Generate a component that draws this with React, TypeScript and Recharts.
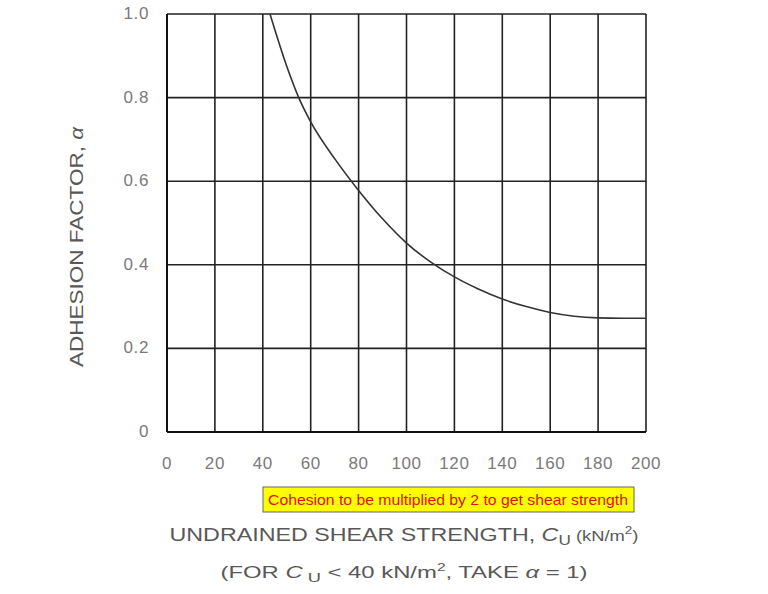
import React from 'react';
import { LineChart, Line, XAxis, YAxis, CartesianGrid } from 'recharts';

// undrained shear strength (kN/m2) and adhesion factor
const cuValues = [43, 50, 55, 60, 70, 80, 90, 100, 110, 120, 130, 140, 150, 160, 170, 180, 190, 200];
const alphaValues = [1.0, 0.875, 0.8, 0.742, 0.654, 0.578, 0.51, 0.452, 0.407, 0.371, 0.342, 0.318, 0.3, 0.286, 0.277, 0.273, 0.272, 0.272];

const cuTicks = [0, 20, 40, 60, 80, 100, 120, 140, 160, 180, 200];
const alphaTicks = [0, 0.2, 0.4, 0.6, 0.8, 1.0];

const data = cuValues.map((cu, i) => ({ cu, alpha: alphaValues[i] }));

const FONT = '"Liberation Sans", Arial, sans-serif';
const TICK_COLOR = '#7a7a7a';
const LABEL_COLOR = '#585858';

function XTick(props: any) {
  const { x, y, payload } = props;
  return (
    <text
      x={x}
      y={y + 37}
      textAnchor="middle"
      fontFamily={FONT}
      fontSize={17}
      letterSpacing={0.6}
      fill={TICK_COLOR}
    >
      {payload.value}
    </text>
  );
}

function YTick(props: any) {
  const { x, y, payload } = props;
  const v = payload.value;
  const label = v === 0 ? '0' : v.toFixed(1);
  return (
    <text
      x={x - 18}
      y={y + 5}
      textAnchor="end"
      fontFamily={FONT}
      fontSize={17}
      letterSpacing={0.6}
      fill={TICK_COLOR}
    >
      {label}
    </text>
  );
}

export default function App() {
  return (
    <div style={{ position: 'fixed', left: 0, top: 0, width: 768, height: 594, background: '#fff' }}>
      <LineChart
        width={768}
        height={480}
        data={data}
        margin={{ top: 14, right: 122, left: 127, bottom: 18 }}
      >
        <CartesianGrid stroke="#222" strokeWidth={1.6} />
        <XAxis
          type="number"
          dataKey="cu"
          domain={[0, 200]}
          ticks={cuTicks}
          interval={0}
          height={30}
          tickSize={0}
          tickMargin={0}
          tickLine={false}
          axisLine={{ stroke: '#111', strokeWidth: 2 }}
          tick={<XTick />}
        />
        <YAxis
          type="number"
          domain={[0, 1]}
          ticks={alphaTicks}
          interval={0}
          width={40}
          tickSize={0}
          tickMargin={0}
          tickLine={false}
          axisLine={{ stroke: '#111', strokeWidth: 2 }}
          tick={<YTick />}
        />
        <Line
          type="monotone"
          dataKey="alpha"
          stroke="#333"
          strokeWidth={1.6}
          dot={false}
          isAnimationActive={false}
        />
      </LineChart>
      <svg
        width={768}
        height={594}
        style={{ position: 'absolute', left: 0, top: 0, pointerEvents: 'none' }}
      >
        <text
          transform="translate(83,247) rotate(-90)"
          textAnchor="middle"
          fontFamily={FONT}
          fontSize={19}
          textLength={240}
          lengthAdjust="spacingAndGlyphs"
          fill={LABEL_COLOR}
        >
          ADHESION FACTOR, <tspan fontStyle="italic">α</tspan>
        </text>
        <rect x={263} y={487} width={371} height={25} fill="#ffff00" stroke="#666" strokeWidth={1} />
        <text
          x={448}
          y={505}
          textAnchor="middle"
          fontFamily={FONT}
          fontSize={15}
          textLength={360}
          lengthAdjust="spacingAndGlyphs"
          fill="#e01010"
        >
          Cohesion to be multiplied by 2 to get shear strength
        </text>
        <text
          x={404}
          y={541}
          textAnchor="middle"
          fontFamily={FONT}
          fontSize={19}
          textLength={469}
          lengthAdjust="spacingAndGlyphs"
          fill={LABEL_COLOR}
        >
          UNDRAINED SHEAR STRENGTH, <tspan fontStyle="italic">C</tspan>
          <tspan fontSize={14} dy={4}>U</tspan>
          <tspan dy={-4} fontSize={15}> (kN/m</tspan>
          <tspan fontSize={11} dy={-7}>2</tspan>
          <tspan dy={7} fontSize={15}>)</tspan>
        </text>
        <text
          x={404}
          y={578}
          textAnchor="middle"
          fontFamily={FONT}
          fontSize={17}
          textLength={367}
          lengthAdjust="spacingAndGlyphs"
          fill={LABEL_COLOR}
        >
          (FOR <tspan fontStyle="italic">C</tspan>
          <tspan fontSize={13} dy={4}> U</tspan>
          <tspan dy={-4}> &lt; 40 kN/m</tspan>
          <tspan fontSize={11} dy={-7}>2</tspan>
          <tspan dy={7}>, TAKE </tspan>
          <tspan fontStyle="italic">α</tspan> = 1)
        </text>
      </svg>
    </div>
  );
}
